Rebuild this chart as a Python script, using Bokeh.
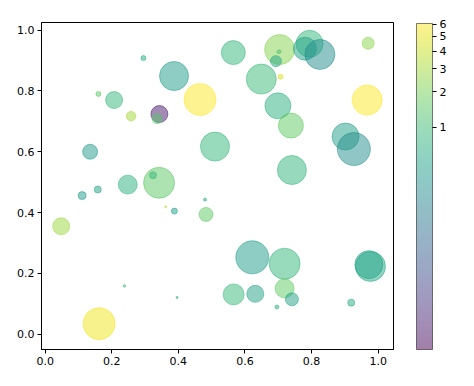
import numpy as np
from bokeh.plotting import figure
from bokeh.models import (ColumnDataSource, LinearColorMapper, ColorBar, FixedTicker,
                          CustomJSTickFormatter, Range1d, NumeralTickFormatter, AllLabels)
from bokeh.palettes import Viridis256
from bokeh.transform import transform
from bokeh.embed import file_html
from bokeh.resources import INLINE

# ---- data ----
xs = [0.295, 0.387, 0.465, 0.565, 0.160, 0.207, 0.258, 0.343, 0.336, 0.135,
      0.510, 0.248, 0.342, 0.324, 0.111, 0.158, 0.362, 0.388, 0.480, 0.483,
      0.048, 0.238, 0.396, 0.162, 0.704, 0.702, 0.693, 0.794, 0.780, 0.825,
      0.970, 0.649, 0.707, 0.967, 0.699, 0.738, 0.902, 0.927, 0.741, 0.622,
      0.719, 0.719, 0.566, 0.631, 0.741, 0.696, 0.919, 0.972, 0.977]
ys = [0.908, 0.849, 0.772, 0.926, 0.790, 0.770, 0.717, 0.724, 0.709, 0.600,
      0.617, 0.492, 0.498, 0.523, 0.456, 0.476, 0.419, 0.405, 0.443, 0.394,
      0.355, 0.159, 0.121, 0.035, 0.936, 0.929, 0.898, 0.955, 0.939, 0.920,
      0.957, 0.839, 0.847, 0.770, 0.751, 0.686, 0.650, 0.609, 0.540, 0.253,
      0.232, 0.151, 0.131, 0.133, 0.115, 0.090, 0.104, 0.229, 0.223]
diams = [5, 29, 32, 24, 5, 17, 9.5, 17, 10, 15,
         29, 19, 31, 7, 8, 7, 2, 6, 3, 14,
         17, 2.5, 2, 32, 30, 4, 11, 27, 23, 30,
         12, 30, 5, 30, 26, 25, 27, 33, 29, 33,
         31, 19, 21, 17, 13, 4, 7, 28, 30]
cvals = [0.60, 0.37, 6.0, 0.85, 1.5, 0.85, 3.0, 0.00001, 1.4, 0.35,
         0.85, 0.70, 1.5, 0.90, 0.35, 0.45, 3.5, 0.40, 0.50, 1.6,
         2.8, 1.0, 0.5, 5.5, 2.3, 1.2, 0.50, 0.85, 0.45, 0.20,
         2.4, 1.0, 4.5, 6.0, 0.70, 1.6, 0.40, 0.22, 0.80, 0.37,
         0.85, 1.6, 0.90, 0.45, 0.45, 0.60, 0.60, 0.40, 0.55]
cbar_ticks = [1, 2, 3, 4, 5, 6]

VMAX = 6.05
GAMMA = 0.213

def pnorm(v):
    return (np.asarray(v, dtype=float) / VMAX) ** GAMMA

src = ColumnDataSource(dict(x=xs, y=ys, s=diams, t=pnorm(cvals)))
mapper = LinearColorMapper(palette=Viridis256, low=0.0, high=1.0)

p = figure(frame_width=352, frame_height=327,
           x_range=Range1d(-0.011, 1.046), y_range=Range1d(-0.050, 1.025),
           output_backend="svg", toolbar_location=None,
           min_border_left=41, min_border_top=22, min_border_bottom=29, min_border_right=10)
p.grid.visible = False
p.outline_line_color = "black"
p.outline_line_alpha = 1.0
p.outline_line_width = 1

p.scatter("x", "y", size="s", source=src,
          fill_color=transform("t", mapper), fill_alpha=0.5,
          line_color=transform("t", mapper), line_alpha=0.5)

for ax in (p.xaxis[0], p.yaxis[0]):
    ax.ticker = FixedTicker(ticks=[0.0, 0.2, 0.4, 0.6, 0.8, 1.0])
    ax.formatter = NumeralTickFormatter(format="0.0")
    ax.major_label_text_font = "DejaVu Sans"
    ax.major_label_text_font_size = "11px"
    ax.major_label_text_color = "black"
    ax.major_tick_out = 4
    ax.major_tick_in = 0
    ax.minor_tick_out = 0
    ax.minor_tick_in = 0
    ax.axis_line_color = "black"
    ax.major_tick_line_color = "black"
    ax.major_label_standoff = 3

cb = ColorBar(color_mapper=mapper, width=16, height=326,
              ticker=FixedTicker(ticks=list(pnorm(cbar_ticks))),
              formatter=CustomJSTickFormatter(
                  code="return Math.round(%f*Math.pow(tick, 1/%f)).toString();" % (VMAX, GAMMA)),
              major_label_policy=AllLabels(),
              scale_alpha=0.5, bar_line_color="black", bar_line_alpha=1.0,
              major_tick_out=4, major_tick_in=0, major_tick_line_color="black",
              minor_tick_line_color=None,
              major_label_text_font="DejaVu Sans", major_label_text_font_size="11px",
              major_label_text_color="black", label_standoff=3,
              padding=0, margin=0, location=(23, 0),
              border_line_color=None, background_fill_color=None)
p.add_layout(cb, "right")

open("out.html", "w").write(file_html(p, INLINE))
